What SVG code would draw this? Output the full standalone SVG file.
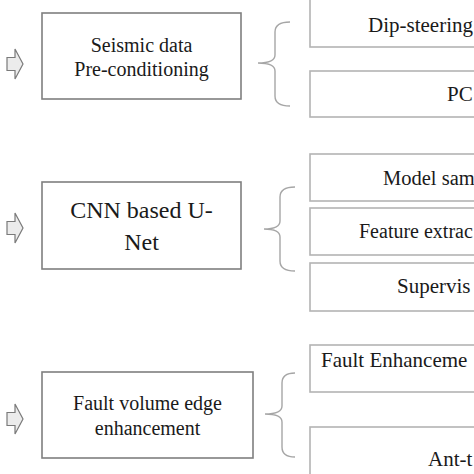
<svg xmlns="http://www.w3.org/2000/svg" width="474" height="474" viewBox="0 0 474 474">
<defs>
<style>
.main{fill:#fff;stroke:#7f7f7f;stroke-width:1.6}
.sub{fill:#fff;stroke:#b3b3b3;stroke-width:1.6}
.brace{fill:none;stroke:#a6a6a6;stroke-width:1.4}
.arr{fill:#ececec;stroke:#7a7a7a;stroke-width:1.2}
.t{font-family:'Liberation Serif','DejaVu Serif',serif;fill:#1a1a1a}
.c{text-anchor:middle}
</style>
<path id="arrowShape" d="M7,-6.5 L15,-6.5 L15,-15 L23,0 L15,15 L15,6.5 L7,6.5 Z"/>
</defs>
<rect width="474" height="474" fill="#fff"/>
<g id="connectors">
<use href="#arrowShape" class="arr" transform="translate(0,64)"/>
<use href="#arrowShape" class="arr" transform="translate(0,228)"/>
<use href="#arrowShape" class="arr" transform="translate(0,419)"/>
<path class="brace" d="M290,22 Q275,22 275,32 L275,55 Q275,63 258,63 Q275,63 275,71 L275,96 Q275,106 290,106"/>
<path class="brace" d="M295,187 Q280,187 280,197 L280,221 Q280,229 264,229 Q280,229 280,237 L280,261 Q280,271 295,271"/>
<path class="brace" d="M295,373 Q282,373 282,383 L282,406 Q282,414 265,414 Q282,414 282,422 L282,447 Q282,457 295,457"/>
</g>
<g font-family="Liberation Serif, DejaVu Serif, serif">
<g id="node-preconditioning">
<rect class="main" x="42" y="13" width="199" height="86"/>
<text class="t c" x="141.5" y="52" font-size="20">Seismic data</text>
<text class="t c" x="141.5" y="76" font-size="20">Pre-conditioning</text>
</g>
<g id="node-unet">
<rect class="main" x="42" y="182" width="199" height="87"/>
<text class="t c" x="141.5" y="218" font-size="24">CNN based U-</text>
<text class="t c" x="141.5" y="250" font-size="24">Net</text>
</g>
<g id="node-edge">
<rect class="main" x="42" y="372" width="211" height="86"/>
<text class="t c" x="147.5" y="410" font-size="20">Fault volume edge</text>
<text class="t c" x="147.5" y="435" font-size="20">enhancement</text>
</g>
<g id="node-dip">
<rect class="sub" x="310" y="-10" width="180" height="57"/>
<text class="t" x="368" y="32" font-size="21">Dip-steering</text>
</g>
<g id="node-pca">
<rect class="sub" x="310" y="71" width="180" height="46"/>
<text class="t" x="447" y="101" font-size="21">PC</text>
</g>
<g id="node-model">
<rect class="sub" x="310" y="154" width="180" height="47"/>
<text class="t" x="383" y="185" font-size="20.5">Model sam</text>
</g>
<g id="node-feature">
<rect class="sub" x="310" y="208" width="180" height="47"/>
<text class="t" x="359" y="238" font-size="20">Feature extrac</text>
</g>
<g id="node-supervised">
<rect class="sub" x="310" y="263" width="180" height="48"/>
<text class="t" x="397" y="293" font-size="21">Supervis</text>
</g>
<g id="node-fault-enh">
<rect class="sub" x="310" y="345" width="180" height="47"/>
<text class="t" x="321" y="367" font-size="21">Fault Enhanceme</text>
</g>
<g id="node-ant">
<rect class="sub" x="310" y="427" width="180" height="60"/>
<text class="t" x="428" y="466" font-size="21">Ant-t</text>
</g>
</g>
</svg>
